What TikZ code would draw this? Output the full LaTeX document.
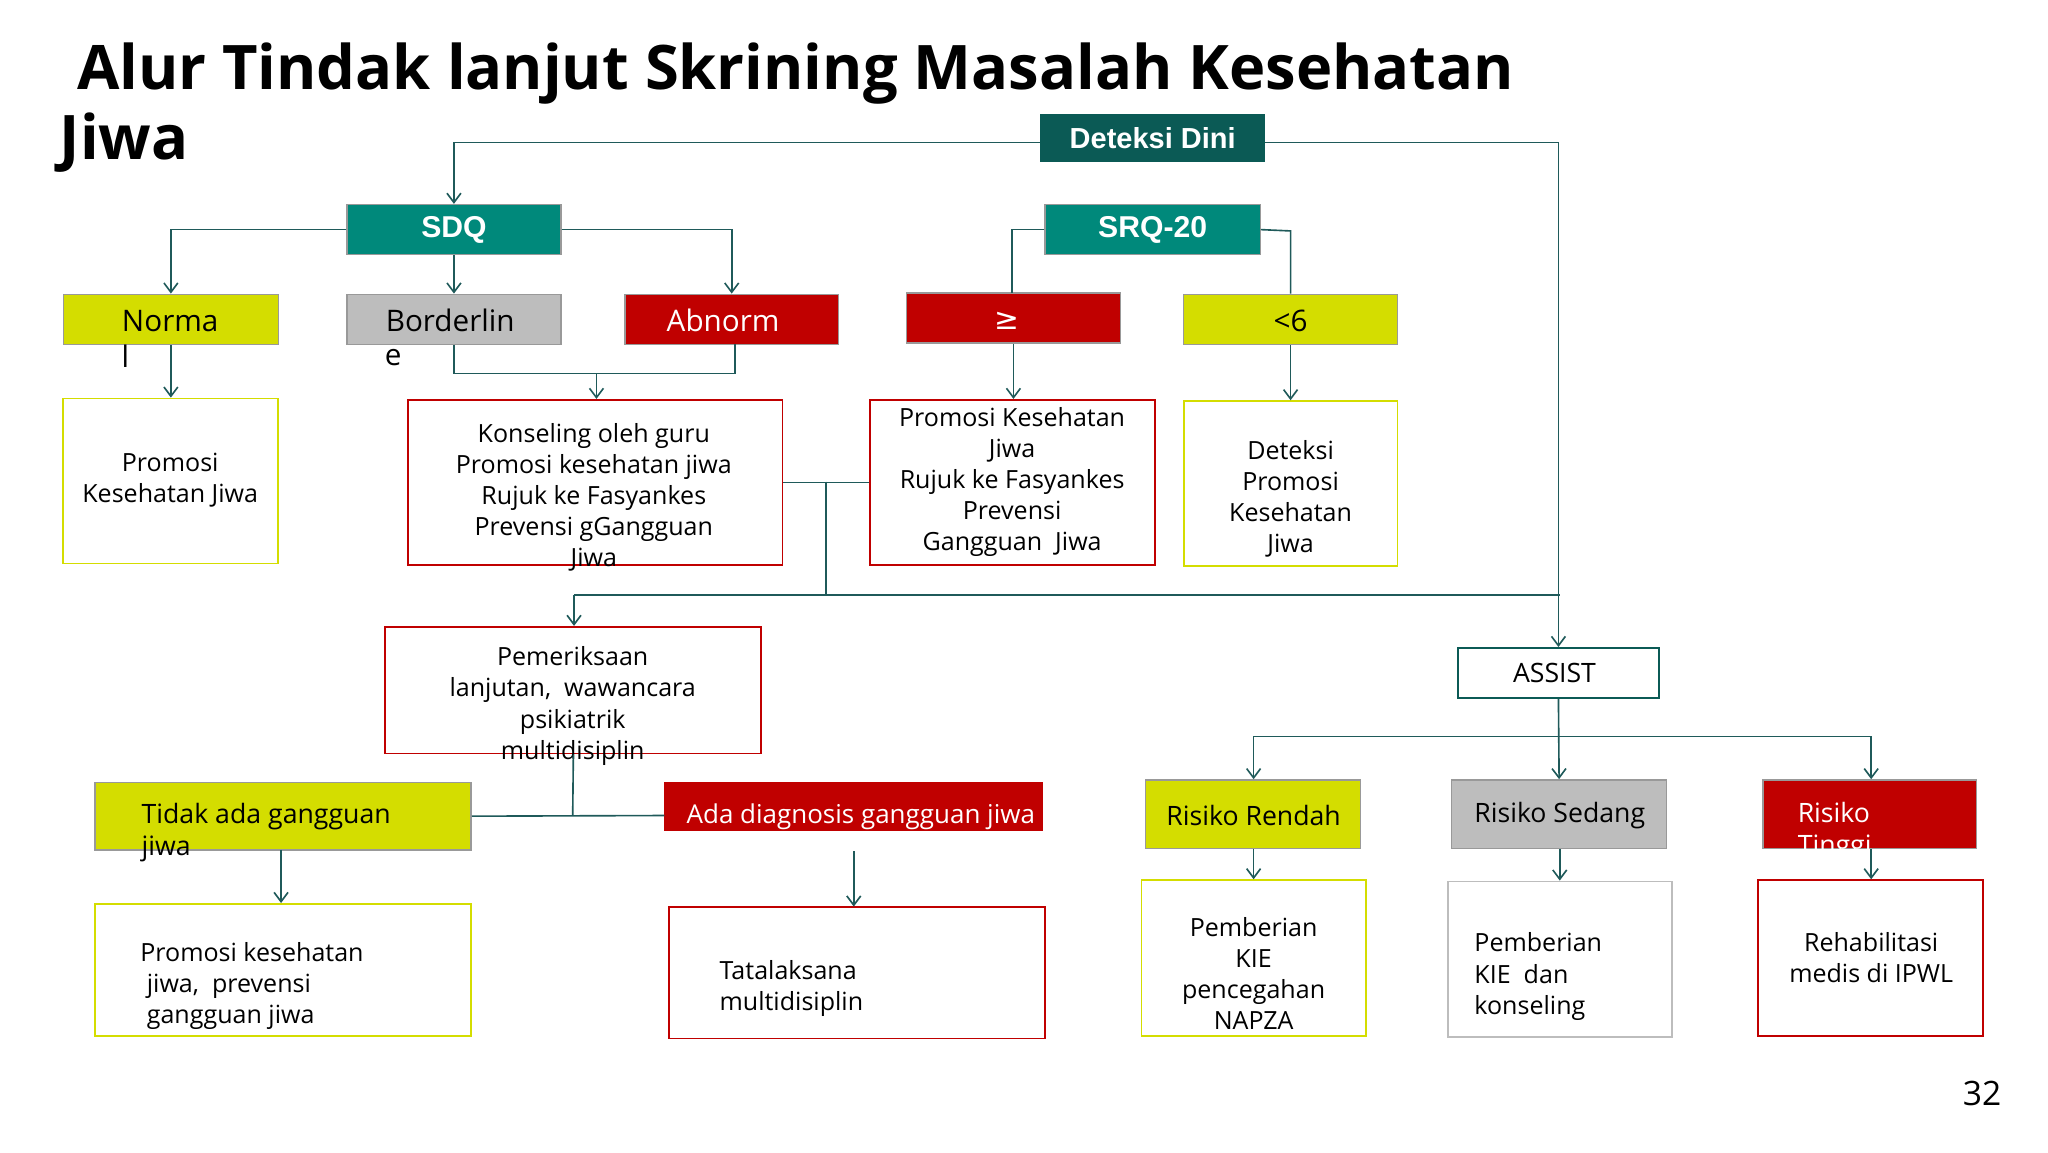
\documentclass[tikz,border=0pt]{standalone}
\usepackage{fontspec}
\setmainfont{Open Sans}
\newfontfamily\arialf{Liberation Sans}
\usetikzlibrary{arrows.meta}
\definecolor{dteal}{HTML}{0B5A55}
\definecolor{mteal}{HTML}{00897B}
\definecolor{ygreen}{HTML}{D4DD00}
\definecolor{lgray}{HTML}{BDBDBD}
\definecolor{dred}{HTML}{C00000}
\definecolor{lnc}{HTML}{1F5A5A}
\tikzset{
 bx/.style={draw=#1, line width=0.8pt, inner sep=0pt},
 hd/.style={fill=#1, draw=gray!80, line width=0.6pt, inner sep=0pt},
 tx/.style={align=center, font=\fontsize{10.8}{13.4}\selectfont, inner sep=0pt},
 txl/.style={align=left, anchor=west, font=\fontsize{10.8}{13.4}\selectfont, inner sep=0pt},
 ht/.style={font=\fontsize{12.8}{15}\selectfont, inner sep=0pt},
 ln/.style={draw=lnc, line width=0.7pt},
 ar/.style={ln, -{Straight Barb[length=4pt,width=6pt]}}
}
\begin{document}
\begin{tikzpicture}[x=0.02cm,y=-0.02cm]
\useasboundingbox[fill=white] (0,0) rectangle (1552,873);
% title
\node[anchor=base west, inner sep=0pt, font=\fontsize{26.5}{31}\bfseries\selectfont] (t1) at (58,68) {Alur Tindak lanjut Skrining Masalah Kesehatan};
\node[anchor=base west, inner sep=0pt, font=\fontsize{26.5}{31}\bfseries\selectfont] (t2) at (45,121) {Jiwa};
\node[font=\fontsize{14.5}{18}\selectfont, inner sep=0pt] (pg) at (1502,829) {32};
% header boxes
\node[hd=dteal, draw=dteal, minimum width=3.38cm, minimum height=0.70cm, text=white, font=\arialf\fontsize{12.5}{15}\bfseries\selectfont] (dd) at (873.5,104.5) {Deteksi Dini};
\node[hd=mteal, minimum width=3.24cm, minimum height=0.76cm, text=white, font=\arialf\fontsize{13}{15}\bfseries\selectfont] (sdq) at (344,174) {SDQ};
\node[hd=mteal, minimum width=3.26cm, minimum height=0.76cm, text=white, font=\arialf\fontsize{13}{15}\bfseries\selectfont] (srq) at (873.5,174) {SRQ-20};
\node[hd=ygreen, minimum width=3.26cm, minimum height=0.76cm] (nor) at (129.5,242) {};
\node[ht] at (129,243) {Norma};
\node[ht] at (95,270) {l};
\node[hd=lgray, minimum width=3.24cm, minimum height=0.76cm] (bor) at (344,242) {};
\node[ht, anchor=west] at (292,243) {Borderlin};
\node[ht] at (298,271) {e};
\node[hd=dred, minimum width=3.24cm, minimum height=0.76cm] (abn) at (554.5,242) {};
\node[ht, text=white] at (548,243) {Abnorm};
\node[hd=dred, minimum width=3.24cm, minimum height=0.76cm] (ge) at (768,241) {};
\node[ht, text=white] at (763,243) {\fontspec{DejaVu Sans}≥};
\node[hd=ygreen, minimum width=3.24cm, minimum height=0.76cm] (lt) at (978,242) {};
\node[ht] at (978,243) {<6};
% second row
\node[bx=ygreen, minimum width=3.26cm, minimum height=2.50cm] (p1) at (129.5,364.5) {};
\node[tx] at (129,364) {Promosi\\Kesehatan Jiwa};
\node[bx=dred, minimum width=5.68cm, minimum height=2.50cm] (kon) at (451,365.5) {};
\node[tx] at (450,377) {Konseling oleh guru\\Promosi kesehatan jiwa\\Rujuk ke Fasyankes\\Prevensi gGangguan\\Jiwa};
\node[bx=dred, minimum width=4.32cm, minimum height=2.50cm] (pk) at (767,365.5) {};
\node[tx] at (767,365) {Promosi Kesehatan\\Jiwa\\Rujuk ke Fasyankes\\Prevensi\\Gangguan\ \ Jiwa};
\node[bx=ygreen, minimum width=3.24cm, minimum height=2.50cm] (dp) at (978,366.5) {};
\node[tx] at (978,378) {Deteksi\\Promosi\\Kesehatan\\Jiwa};
% third
\node[bx=dred, minimum width=5.70cm, minimum height=1.92cm] (pem) at (434.5,523) {};
\node[tx] at (434,535) {Pemeriksaan\\lanjutan,\ \ wawancara\\psikiatrik\\multidisiplin};
\node[bx=dteal, minimum width=3.04cm, minimum height=0.76cm] (as) at (1181,510) {};
\node[ht, font=\fontsize{11.5}{14}\selectfont] at (1178,510) {ASSIST};
\node[hd=ygreen, minimum width=5.70cm, minimum height=1.02cm] (tid) at (214.5,618.5) {};
\node[txl, font=\fontsize{11.5}{13.6}\selectfont] at (107,631) {Tidak ada gangguan\\jiwa};
\node[hd=dred, draw=dred, minimum width=5.72cm, minimum height=0.72cm] (ada) at (647,611) {};
\node[txl, text=white, font=\fontsize{11.2}{14}\selectfont] at (520,619) {Ada diagnosis gangguan jiwa};
\node[hd=ygreen, minimum width=3.26cm, minimum height=1.04cm] (rr) at (949.5,617) {};
\node[ht, font=\fontsize{11.5}{14}\selectfont] at (950,618) {Risiko Rendah};
\node[hd=lgray, minimum width=3.26cm, minimum height=1.04cm] (rs) at (1181.5,617) {};
\node[ht, font=\fontsize{11.5}{14}\selectfont] at (1182,618) {Risiko Sedang};
\node[hd=dred, minimum width=3.24cm, minimum height=1.04cm] (rt) at (1417,617) {};
\node[txl, text=white, font=\fontsize{11.5}{13.6}\selectfont] at (1362,630) {Risiko\\Tinggi};
% bottom
\node[bx=ygreen, minimum width=5.70cm, minimum height=2.00cm] (pkj) at (214.5,735) {};
\node[txl] at (106,747) {Promosi kesehatan\\\ jiwa,\ \ prevensi\\\ gangguan jiwa};
\node[bx=dred, minimum width=5.70cm, minimum height=2.00cm] (tat) at (649.5,737) {};
\node[txl] at (545,749) {Tatalaksana\\multidisiplin};
\node[bx=ygreen, minimum width=3.40cm, minimum height=2.36cm] (k1) at (950,726) {};
\node[tx] at (950,738) {Pemberian\\KIE\\pencegahan\\NAPZA};
\node[bx=lgray, minimum width=3.40cm, minimum height=2.36cm] (k2) at (1182,727) {};
\node[txl] at (1117,740) {Pemberian\\KIE\ \ dan\\konseling};
\node[bx=dred, minimum width=3.42cm, minimum height=2.36cm] (reh) at (1417.5,726) {};
\node[tx] at (1418,726) {Rehabilitasi\\medis di IPWL};
% connectors
\draw[ar] (dd.west |- 0,108) -| (sdq.north);
\draw[ar] (dd.east |- 0,108) -| (as.north);
\draw[ar] (sdq.west) -| (nor.north);
\draw[ar] (sdq.south) -- (bor.north);
\draw[ar] (sdq.east) -| (abn.north);
\draw[ln] (srq.west) -| (767,222);
\draw[ln] (srq.east) -- (978,175) -- (lt.north);
\draw[ar] (nor.south) -- (p1.north);
\draw[ln] (bor.south) -- (344,283) -| (557,261);
\coordinate (kj) at (452,283);
\draw[ar] (kj) -- (kon.north -| kj);
\draw[ar] (ge.south) -- (pk.north -| ge.south);
\draw[ar] (lt.south) -- (dp.north);
\draw[ln] (kon.east) -- (pk.west);
\coordinate (mj) at (626,365);
\draw[ln] (mj) -- (626,451);
\draw[ln] (435,451) -- (1182,451);
\draw[ar] (435,451) -- (pem.north -| 435,0);
\draw[ln] (pem.south) -- (434,618);
\draw[ln] (tid.east) -- (ada.west |- 0,618);
\draw[ar] (213,644) -- (pkj.north -| 213,0);
\draw[ar] (647,645) -- (647,687);
\draw[ar] (as.south) -- (rs.north);
\draw[ln] (950,558) -- (1418,558);
\draw[ar] (950,558) -- (rr.north -| 950,0);
\draw[ar] (1418,558) -- (rt.north -| 1418,0);
\draw[ar] (rr.south -| 950,0) -- (k1.north);
\draw[ar] (rs.south -| 1182,0) -- (k2.north);
\draw[ar] (rt.south -| 1418,0) -- (reh.north -| 1418,0);
\end{tikzpicture}
\end{document}
